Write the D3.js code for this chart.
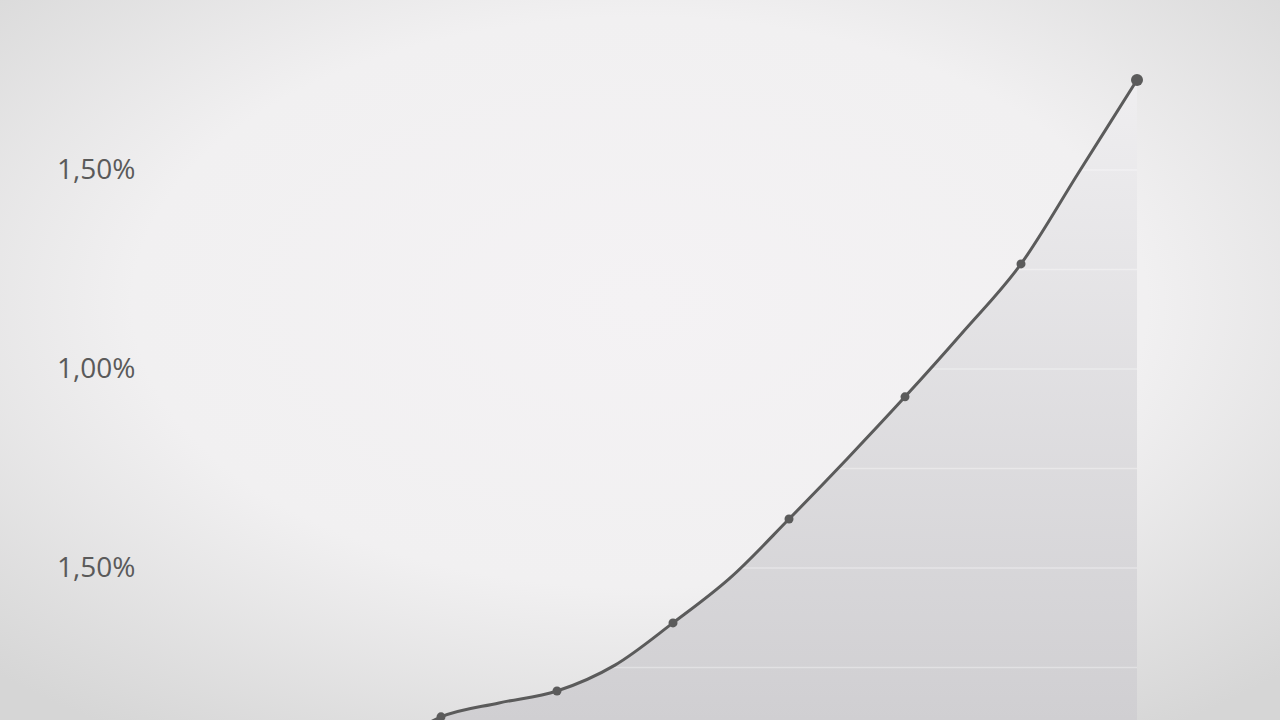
<!DOCTYPE html>
<html>
<head>
<meta charset="utf-8">
<script src="https://cdn.jsdelivr.net/npm/d3@7"></script>
<style>
  html, body { margin: 0; padding: 0; background: #ececec; }
  svg { display: block; }
</style>
</head>
<body>
<div id="chart"></div>
<script>
// datos (paso = medio periodo)
const periodos = [0, 1, 2, 3, 4, 5, 6, 7, 8, 9, 10, 11, 12, 13, 14];
const valores = [0.0, 0.043, 0.126, 0.161, 0.191, 0.256, 0.362, 0.477, 0.623, 0.774, 0.930, 1.093, 1.264, 1.495, 1.726];
const marcados = [0, 2, 4, 6, 8, 10, 12, 14];
const ticksY = [1.5, 1.0, 0.5];
const etiquetasY = ["1,50%", "1,00%", "1,50%"];
const rejilla = [0.25, 0.5, 0.75, 1.0, 1.25, 1.5];

const width = 1280, height = 720;

const svg = d3.select("#chart")
    .append("svg")
    .attr("width", width)
    .attr("height", height);

const defs = svg.append("defs");

const fondo = defs.append("radialGradient")
    .attr("id", "fondo")
    .attr("cx", "50%").attr("cy", "42%").attr("r", "72%");
fondo.append("stop").attr("offset", "0%").attr("stop-color", "#f4f2f4");
fondo.append("stop").attr("offset", "55%").attr("stop-color", "#f1f0f1");
fondo.append("stop").attr("offset", "100%").attr("stop-color", "#d6d6d6");

const relleno = defs.append("linearGradient")
    .attr("id", "relleno")
    .attr("x1", 0).attr("y1", 80).attr("x2", 0).attr("y2", 720)
    .attr("gradientUnits", "userSpaceOnUse");
relleno.append("stop").attr("offset", "0%").attr("stop-color", "#efeef0");
relleno.append("stop").attr("offset", "100%").attr("stop-color", "#d0cfd2");

svg.append("rect")
    .attr("width", width)
    .attr("height", height)
    .attr("fill", "url(#fondo)");

const x = d3.scaleLinear()
    .domain([0, 14])
    .range([325, 1137]);

const y = d3.scaleLinear()
    .domain([0.5, 1.5])
    .range([568, 170]);

const area = d3.area()
    .x((d, i) => x(periodos[i]))
    .y0(y(0))
    .y1(d => y(d))
    .curve(d3.curveMonotoneX);

const linea = d3.line()
    .x((d, i) => x(periodos[i]))
    .y(d => y(d))
    .curve(d3.curveMonotoneX);

defs.append("clipPath")
    .attr("id", "recorte")
    .append("path")
    .attr("d", area(valores));

svg.append("path")
    .datum(valores)
    .attr("fill", "url(#relleno)")
    .attr("d", area);

// lineas de rejilla solo dentro del area
svg.append("g")
    .attr("clip-path", "url(#recorte)")
    .selectAll("line")
    .data(rejilla)
    .enter()
    .append("line")
    .attr("x1", 0)
    .attr("x2", width)
    .attr("y1", d => y(d))
    .attr("y2", d => y(d))
    .attr("stroke", "#ffffff")
    .attr("stroke-opacity", 0.35)
    .attr("stroke-width", 1.5);

svg.append("path")
    .datum(valores)
    .attr("fill", "none")
    .attr("stroke", "#5b5b5b")
    .attr("stroke-width", 3)
    .attr("stroke-linejoin", "round")
    .attr("stroke-linecap", "round")
    .attr("d", linea);

svg.selectAll("circle")
    .data(marcados)
    .enter()
    .append("circle")
    .attr("cx", i => x(periodos[i]))
    .attr("cy", i => y(valores[i]))
    .attr("r", i => i === 14 ? 6 : 4.5)
    .attr("fill", "#5b5b5b");

const ejeY = d3.axisLeft(y)
    .tickValues(ticksY)
    .tickFormat((d, i) => etiquetasY[i])
    .tickSize(0)
    .tickPadding(0);

const gEje = svg.append("g")
    .attr("transform", "translate(57,0)")
    .call(ejeY);
gEje.select(".domain").remove();
gEje.selectAll("text")
    .attr("text-anchor", "start")
    .attr("x", 0)
    .attr("fill", "#5a5a5a")
    .style("font-family", "'Open Sans', sans-serif")
    .style("font-size", "28px");
</script>
</body>
</html>
